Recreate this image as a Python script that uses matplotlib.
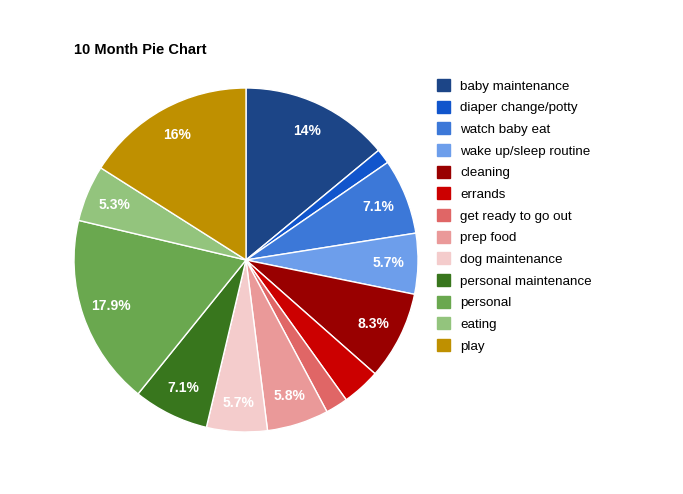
import matplotlib.pyplot as plt
from matplotlib.patches import Patch

plt.rcParams['font.family'] = ['Liberation Sans', 'DejaVu Sans']

# Data
categories = ['baby maintenance', 'diaper change/potty', 'watch baby eat',
              'wake up/sleep routine', 'cleaning', 'errands',
              'get ready to go out', 'prep food', 'dog maintenance',
              'personal maintenance', 'personal', 'eating', 'play']
shares = [14.0, 1.4, 7.1, 5.7, 8.3, 3.6, 2.1, 5.8, 5.7, 7.1, 17.9, 5.3, 16.0]
colors = ['#1c4587', '#1155cc', '#3c78d8', '#6d9eeb', '#990000', '#cc0000',
          '#e06666', '#ea9999', '#f4cccc', '#38761d', '#6aa84f', '#93c47d',
          '#bf9000']

W, H = 683, 494
fig = plt.figure(figsize=(W / 100, H / 100), dpi=100)

# pie centre (246, 260) px, radius 172 px
cx, cy, r = 246, 260, 172
ax = fig.add_axes([(cx - r) / W, (H - cy - r) / H, 2 * r / W, 2 * r / H])


def fmt(p):
    if p < 5:
        return ''
    s = f'{p:.1f}'
    if s.endswith('.0'):
        s = s[:-2]
    return s + '%'


wedges, texts, autotexts = ax.pie(
    shares, colors=colors, startangle=90, counterclock=False,
    autopct=fmt, pctdistance=0.83, radius=1,
    wedgeprops=dict(edgecolor='white', linewidth=1),
    textprops=dict(color='white', fontsize=10, fontweight='bold'))
ax.set_xlim(-1, 1)
ax.set_ylim(-1, 1)
ax.axis('off')

fig.text(74 / W, 1 - 50 / H, '10 Month Pie Chart', fontsize=10.5,
         fontweight='bold', va='center', ha='left')

handles = [Patch(facecolor=c, edgecolor=c) for c in colors]
fig.legend(handles, categories, loc='upper left',
           bbox_to_anchor=(437 / W, 1 - 79 / H), frameon=False,
           fontsize=9.6, handlelength=1.0, handleheight=1.0,
           handletextpad=0.75, labelspacing=0.61, borderpad=0,
           borderaxespad=0)

fig.savefig('out.png', dpi=100, facecolor='white')
